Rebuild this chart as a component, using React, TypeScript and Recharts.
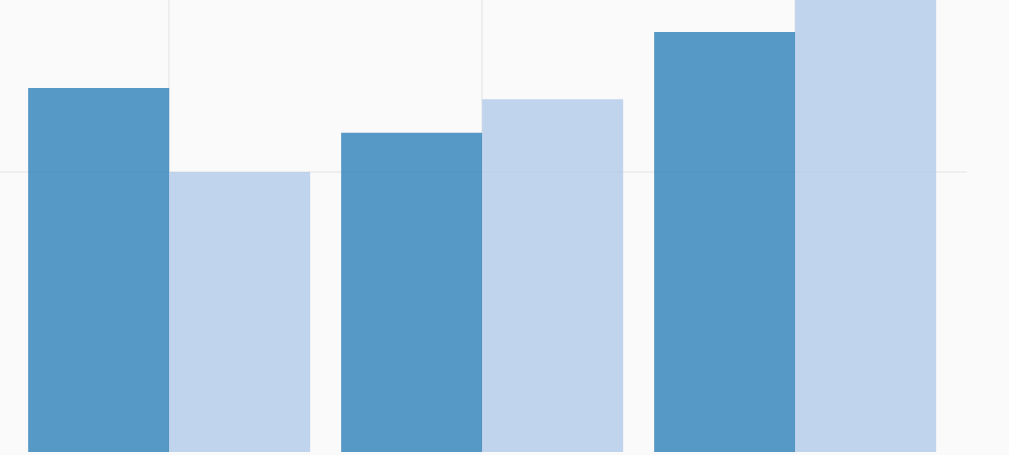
import React from "react";
import { BarChart, Bar, XAxis, YAxis, CartesianGrid } from "recharts";

const categories = ["A", "B", "C"];
const seriesA = [130, 114, 150];
const seriesB = [100, 126, 170];
const yTicks = [0, 100];

const data = categories.map((c, i) => ({ name: c, a: seriesA[i], b: seriesB[i] }));

export default function App() {
  return (
    <div style={{ position: "absolute", left: 0, top: 0, width: 1009, height: 455, background: "#fafafa" }}>
      <BarChart
        width={1009}
        height={455}
        data={data}
        margin={{ top: 0, right: 42, left: 0, bottom: 3 }}
        barCategoryGap="5%"
        barGap={0}
      >
        <CartesianGrid
          stroke="#e3e3e3"
          strokeWidth={1}
          horizontalValues={yTicks}
          verticalValues={categories}
        />
        <XAxis dataKey="name" hide padding={{ left: 12.5, right: 15.5 }} />
        <YAxis hide domain={[0, 161.4]} ticks={yTicks} allowDataOverflow />
        <Bar dataKey="a" fill="#1f77b4" fillOpacity={0.75} isAnimationActive={false} />
        <Bar dataKey="b" fill="#aec7e8" fillOpacity={0.75} isAnimationActive={false} />
      </BarChart>
    </div>
  );
}
